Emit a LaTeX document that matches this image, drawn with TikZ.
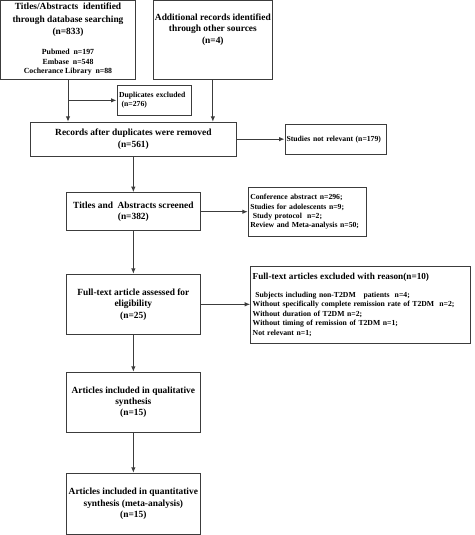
\documentclass[tikz,border=0pt]{standalone}
\usepackage{fontspec}
\setmainfont{Liberation Serif}
\usetikzlibrary{arrows.meta}
\definecolor{linegray}{HTML}{3C3C3C}
\begin{document}
\begin{tikzpicture}[x=1pt,y=-1pt,
  box/.style={draw=linegray, line width=1pt, inner sep=0pt, align=center,
    font=\fontsize{9.4}{11.4}\selectfont\bfseries},
  lbox/.style={draw=linegray, line width=1pt, inner xsep=2pt, inner ysep=0pt, align=left,
    font=\fontsize{7.7}{9.4}\selectfont\bfseries},
  arr/.style={draw=linegray, line width=1pt, -{Latex[length=5.5pt,width=4.5pt]}},
  ln/.style={draw=linegray, line width=1pt}]
\useasboundingbox (0,0) rectangle (474,535);
\fill[white] (0,0) rectangle (474,535);
% top boxes
\node[box, minimum width=135pt, minimum height=78.5pt] (b1) at (68,39.75) {};
\node[box, draw=none, font=\fontsize{9.4}{12.6}\selectfont\bfseries] (b1t) at (68,20)
  {Titles/Abstracts\ \ identified\\through database searching\\(n=833)};
\node[box, draw=none, font=\fontsize{7.8}{9.6}\selectfont\bfseries] (b1s) at (68,62.5)
  {Pubmed\ \ n=197\\Embase\ \ n=548\\Cocherance Library\ \ n=88};
\node[box, minimum width=119.7pt, minimum height=78.5pt] (b2) at (212.85,39.75) {};
\node[box, draw=none] (b2t) at (212.85,29.5)
  {Additional records identified\\through other sources\\(n=4)};
\node[lbox, text width=70pt, minimum height=30.7pt] (dup) at (154,100.35)
  {Duplicates excluded\\\ (n=276)};
\node[box, minimum width=206.7pt, minimum height=33.7pt] (rec) at (133.35,139.15)
  {Records after duplicates were removed\\(n=561)};
\node[lbox, inner xsep=1.5pt, text width=98.7pt, minimum height=30.3pt] (nr) at (335.85,139.15)
  {Studies not relevant (n=179)};
\node[box, minimum width=133.3pt, minimum height=38pt] (scr) at (133.35,211.7)
  {Titles and\ \ Abstracts screened\\(n=382)};
\node[lbox, text width=114.4pt, minimum height=49.4pt] (conf) at (307.5,212)
  {Conference abstract n=296;\\Studies for adolescents n=9;\\\ Study protocol\ \ n=2;\\Review and Meta-analysis n=50;};
\node[box, minimum width=133.3pt, minimum height=60pt] (ft) at (133.35,304.3)
  {Full-text article assessed for\\eligibility\\(n=25)};
\node[lbox, text width=216pt, minimum height=77pt] (exc) at (360.7,304.5)
  {{\fontsize{9.2}{11}\selectfont Full-text articles excluded with reason(n=10)}\\[9pt]
   \ Subjects including non-T2DM\ \ \ patients\ \ n=4;\\
   Without specifically complete remission rate of T2DM\ \ n=2;\\
   Without duration of T2DM n=2;\\
   Without timing of remission of T2DM n=1;\\
   Not relevant n=1;};
\node[box, minimum width=133.3pt, minimum height=60pt] (qual) at (133.35,402.3)
  {Articles included in qualitative\\synthesis\\(n=15)};
\node[box, minimum width=133.3pt, minimum height=61pt] (quant) at (133.35,503.8)
  {Articles included in quantitative\\synthesis (meta-analysis)\\(n=15)};
% connectors
\coordinate (br) at (b1.south |- dup.west);
\draw[arr] (b1.south) -- (b1.south |- rec.north);
\draw[arr] (br) -- (dup.west);
\draw[arr] (b2.south) -- (b2.south |- rec.north);
\draw[arr] (rec.east) -- (nr.west);
\draw[arr] (rec.south) -- (scr.north);
\draw[arr] (scr.east) -- (conf.west |- scr.east);
\draw[arr] (scr.south) -- (ft.north);
\draw[arr] (ft.east) -- (exc.west |- ft.east);
\draw[arr] (ft.south) -- (qual.north);
\draw[arr] (qual.south) -- (quant.north);
\end{tikzpicture}
\end{document}
